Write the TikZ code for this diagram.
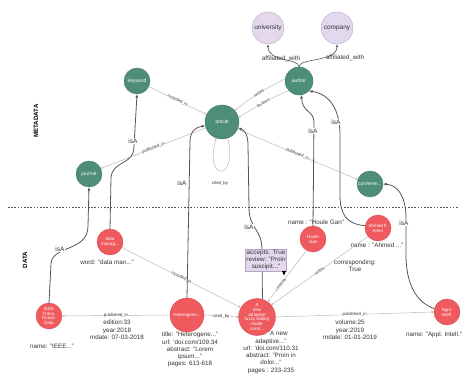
\documentclass[tikz,border=0pt]{standalone}
\usepackage{fontspec}
\setmainfont{Liberation Sans}
\usetikzlibrary{arrows.meta}
\definecolor{gfill}{HTML}{4E8E76}
\definecolor{gline}{HTML}{3E7863}
\definecolor{rfill}{HTML}{EF5A5F}
\definecolor{rline}{HTML}{D9464C}
\definecolor{pfill}{HTML}{E4D9EC}
\definecolor{pline}{HTML}{B9A3CB}
\definecolor{lite}{HTML}{B4B4B4}
\definecolor{dark}{HTML}{555555}
\definecolor{txt}{HTML}{333333}
\begin{document}
\begin{tikzpicture}[x=1pt,y=-1pt,
  gnode/.style={circle,draw=gline,fill=gfill,inner sep=0pt,text=white,align=center,font=\fontsize{5}{5.5}\selectfont},
  rnode/.style={circle,draw=rline,fill=rfill,inner sep=0pt,text=white,align=center,font=\fontsize{4.5}{4.9}\selectfont},
  pnode/.style={circle,draw=pline,fill=pfill,inner sep=0pt,text=txt,align=center,font=\fontsize{6.5}{7}\selectfont,minimum size=32pt},
  isa/.style={draw=dark,line width=0.8pt,-{Latex[length=3.5pt,width=3pt]}},
  litee/.style={draw=lite,line width=0.45pt,-{Stealth[length=2.5pt,width=2pt]}},
  elab/.style={font=\fontsize{4.3}{4.6}\selectfont,text=txt,fill=white,inner sep=0.3pt},
  isalab/.style={font=\fontsize{6.5}{7}\selectfont,text=txt,fill=white,inner sep=0.6pt},
  prop/.style={font=\fontsize{6.3}{7.3}\selectfont,text=txt,align=center,inner sep=0pt},
  side/.style={font=\bfseries\fontsize{6.2}{7}\selectfont,text=black,rotate=90}
]
\useasboundingbox (0,0) rectangle (474,374);

% section labels and separator
\node[side] (meta) at (36,121) {METADATA};
\node[side] (datal) at (25,260) {DATA};
\coordinate (sepl) at (8,207);
\coordinate (sepr) at (458,207);
\draw[dark,line width=0.6pt,dash pattern=on 1.6pt off 1.6pt] (sepl) -- (sepr);

% property labels
\node[prop] (pword) at (107,262) {word: "data man..."};
\node[prop] (pieee) at (52,346) {name: "IEEE..."};
\node[prop,anchor=north] (phet) at (190,332) {title: "Heterogene..."\\url: 'doi.com/109.34\\abstract: "Lorem\\ipsum..."\\pages: 613-618};
\node[prop,anchor=north] (pnew) at (271,331) {title: "A new\\adaptive..."\\url: 'doi.com/110.31\\abstract: "Proin in\\dolor..."\\pages : 233-235};
\node[prop] (phoule) at (316,222) {name : "Houle Gan"};
\node[prop] (pahmed) at (377,245) {name : "Ahmed ..."};
\node[prop] (pappl) at (434,335) {name: "Appl. Intell."};
\node[prop] (pcorr) at (355,266) {corresponding:\\True};
\node[prop] (ppub1) at (117,330) {edition:33\\year:2018\\mdate: 07-03-2018};
\node[prop] (ppub2) at (350,330) {volume:25\\year:2019\\mdate: 01-01-2019};

% nodes
\node[pnode] (univ) at (268,28) {university};
\node[pnode] (comp) at (337,28) {company};
\node[gnode,minimum size=28pt] (author) at (299,81) {author};
\node[gnode,minimum size=26pt] (keyword) at (137,81) {keyword};
\node[gnode,minimum size=34pt] (article) at (222,122) {article};
\node[gnode,minimum size=26pt] (journal) at (89,174) {journal};
\node[gnode,minimum size=26pt] (conf) at (370,184) {conferen...};
\node[rnode,minimum size=26pt] (datam) at (110,242) {data\\manag...};
\node[rnode,minimum size=26pt] (ieee) at (49,316) {IEEE\\Trans.\\Knowl.\\Data};
\node[rnode,minimum size=34pt] (hetero) at (187,315) {Heterogene...};
\node[rnode,minimum size=34pt] (anew) at (257,317) {A\\new\\adaptive\\fuzzy sliding\\mode\\contr...};
\node[rnode,minimum size=26pt] (houle) at (313,239) {Houle\\Gan};
\node[rnode,minimum size=26pt] (ahmed) at (378,228) {Ahmed F.\\Amer};
\node[rnode,minimum size=26pt] (appl) at (447,312) {Appl.\\Intell.};

% affiliated_with
\draw[draw=dark,line width=0.6pt,-{Latex[length=3pt,width=2.6pt]}] (author.north) .. controls (299,58) and (268,62) .. (univ.south);
\draw[draw=dark,line width=0.6pt,-{Latex[length=3pt,width=2.6pt]}] (author.north) .. controls (299,58) and (337,62) .. (comp.south);
\node[prop] (aff1) at (281,59) {affiliated\_with};
\node[prop] (aff2) at (345,58) {affiliated\_with};

% metadata light edges
\draw[litee] (keyword) -- node[elab,sloped] {included\_in} (article);
\draw[litee] (author.172) to[bend right=6] node[elab,sloped] {writes} (article.42);
\draw[litee] (author.222) to[bend right=4] node[elab,sloped] {reviews} (article.15);
\draw[litee] (article.200) -- node[elab,sloped] {published\_in} (journal.25);
\draw[litee] (article.335) -- node[elab,sloped] {published\_in} (conf.160);
\draw[litee] (article.290) .. controls (238,182) and (204,182) .. (article.250);
\node[elab] (citedl) at (220,183) {cited\_by};

% data light edges
\draw[litee] (datam.335) -- node[elab,sloped] {included\_in} (anew.150);
\draw[litee] (hetero.west) -- node[elab] {published\_in} (ieee.east);
\draw[litee] (hetero.east) -- node[elab] {cited\_by} (anew.west);
\draw[litee] (houle.240) -- node[elab,sloped,pos=0.66] {reviews} (anew.55);
\draw[litee] (ahmed.220) -- node[elab,sloped] {writes} (anew.40);
\draw[litee] (anew.east) -- node[elab] {published\_in} (appl.west);

% isA edges
\draw[isa] (datam.north) -- (111,178) .. controls (112,160) and (134,166) .. (134,146) -- (keyword.south);
\node[isalab] (isa1) at (133,141) {isA};
\draw[isa] (ieee.north) -- (51,264) .. controls (52,245) and (88,252) .. (88,226) -- (journal.south);
\node[isalab] (isa2) at (60,249) {isA};
\draw[isa] (hetero.north) -- (190,142) .. controls (190,131) and (196,127) .. (article.193);
\node[isalab] (isa3) at (182,183) {isA};
\draw[isa] (anew.73) -- (262,250) .. controls (262,228) and (249,230) .. (249,207) -- (248,145) .. controls (248,134) and (244,130) .. (article.340);
\node[isalab] (isa4) at (249,227) {isA};
\draw[isa] (houle.north) -- (314,122) .. controls (314,111) and (302,112) .. (author.280);
\node[isalab] (isa5) at (313,131) {isA};
\draw[isa] (ahmed.170) .. controls (346,224) and (340,214) .. (340,195) -- (340,135) .. controls (340,110) and (330,94) .. (author.315);
\node[isalab] (isa6) at (336,122) {isA};
\draw[isa] (appl.165) .. controls (415,302) and (406,282) .. (406,255) -- (406,218) .. controls (406,197) and (398,185) .. (conf.east);
\node[isalab] (isa7) at (404,223) {isA};

% relationship property box
\node[prop,fill=pfill,draw=pline,line width=0.3pt,inner sep=1pt] (pacc) at (266,260) {accepts: True\\review: "Proin\\suscipit..."};
\coordinate (cur) at (282,271);
\fill[black] (cur) -- ++(4,0) -- ++(-2,4.5) -- cycle;
\end{tikzpicture}
\end{document}
